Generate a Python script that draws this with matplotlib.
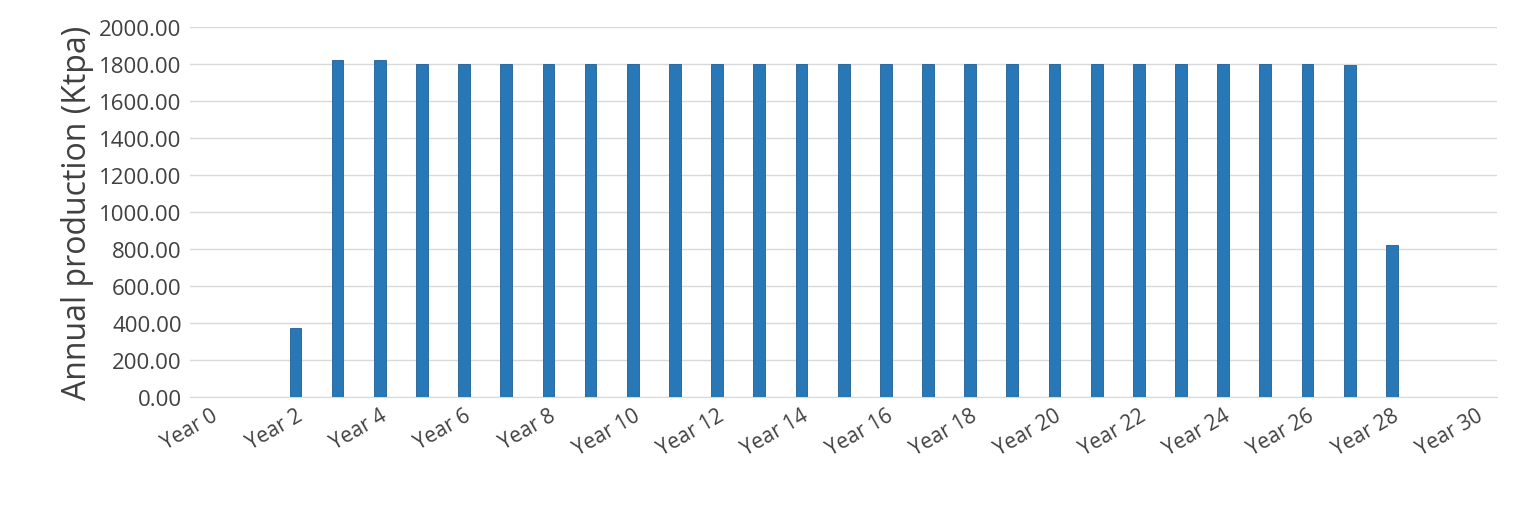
# Annual production per year (Ktpa)
import matplotlib
matplotlib.use("Agg")
import matplotlib.pyplot as plt

plt.rcParams["font.family"] = ["Open Sans", "DejaVu Sans"]

years = [f"Year {i}" for i in range(31)]
production = [0, 0, 370, 1820, 1820] + [1800] * 22 + [1795, 820, 0, 0]

fig = plt.figure(figsize=(15.2, 5.1), dpi=100)
ax = fig.add_axes([0.125, 0.22, 0.86, 0.725])

x = list(range(len(years)))
ax.bar(x, production, width=0.28, color="#2878b8", edgecolor="#1f5f94", linewidth=0.6, zorder=3)

ax.set_xlim(-0.5, len(years) - 0.5)
ax.set_ylim(0, 2000)
ax.set_yticks(range(0, 2001, 200))
ax.set_yticklabels([f"{v:.2f}" for v in range(0, 2001, 200)], fontsize=16, color="#404040")
ax.set_xticks(x[::2])
ax.set_xticklabels(years[::2], rotation=30, ha="right", rotation_mode="anchor",
                   fontsize=15, color="#404040")
ax.set_ylabel("Annual production (Ktpa)", fontsize=23, color="#404040", labelpad=4)

ax.grid(axis="y", color="#d9d9d9", linewidth=1, zorder=0)
for s in ["top", "right", "left"]:
    ax.spines[s].set_visible(False)
ax.spines["bottom"].set_color("#d9d9d9")
ax.tick_params(length=0, pad=6)

fig.savefig("out.png")
